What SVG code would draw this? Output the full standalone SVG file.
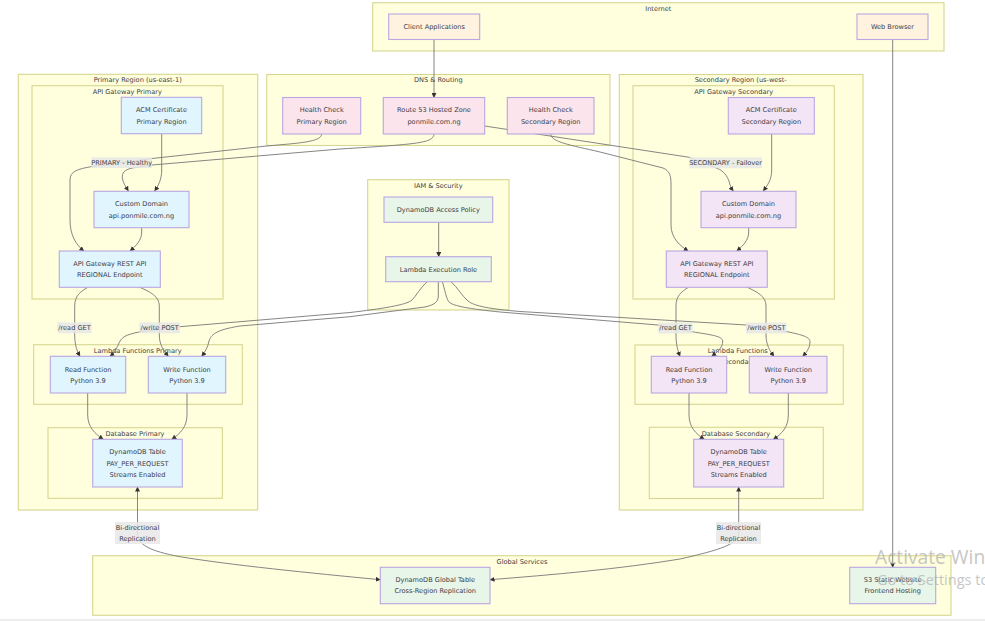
<svg xmlns="http://www.w3.org/2000/svg" width="985" height="621" viewBox="0 0 985 621">
<style>
text{font-family:"DejaVu Sans","Liberation Sans",sans-serif;font-size:6.6px;fill:#3c3c44;text-anchor:middle}
.c{fill:#ffffde;stroke:#d6d690;stroke-width:1.1}
.n{stroke:#b9a6e2;stroke-width:1.1}
.blue{fill:#e1f5fe}.pur{fill:#f3e5f5}.pink{fill:#fce4ec}.org{fill:#fff3e0}.grn{fill:#e8f5e9}
.e{fill:none;stroke:#777;stroke-width:.9;marker-end:url(#a)}
.b{marker-start:url(#s)}
.l{fill:#e8e8e8;fill-opacity:.85}
.w{font-family:"Open Sans",sans-serif;fill:#b4b4b4;text-anchor:start}
</style>
<defs>
<marker id="a" viewBox="0 0 6 6" refX="5.5" refY="3" markerWidth="5" markerHeight="5" markerUnits="userSpaceOnUse" orient="auto"><path d="M0 0L6 3L0 6z" fill="#333"/></marker>
<marker id="s" viewBox="0 0 6 6" refX=".5" refY="3" markerWidth="5" markerHeight="5" markerUnits="userSpaceOnUse" orient="auto"><path d="M6 0L0 3L6 6z" fill="#333"/></marker>
</defs>
<rect width="985" height="621" fill="#fff"/>
<rect y="619" width="985" height="2" fill="#ececec"/>
<g id="clusters">
<g id="cluster-internet"><rect class="c" x="372.7" y="2.7" width="571.3" height="48.3"/><text x="658.3" y="10.6">Internet</text></g>
<g id="cluster-dns"><rect class="c" x="266.7" y="74.5" width="343.3" height="71"/><text x="438.3" y="81.6">DNS &amp; Routing</text></g>
<g id="cluster-primary"><rect class="c" x="18.3" y="74.3" width="239.4" height="435.7"/><text x="137.7" y="81.6">Primary Region (us-east-1)</text></g>
<g id="cluster-apigw-primary"><rect class="c" x="32" y="85.7" width="191" height="213.3"/><text x="127.3" y="94">API Gateway Primary</text></g>
<g id="cluster-lambda-primary"><rect class="c" x="33.7" y="344.7" width="208.6" height="59.6"/><text x="137.7" y="353">Lambda Functions Primary</text></g>
<g id="cluster-db-primary"><rect class="c" x="48" y="427.7" width="174.3" height="70.6"/><text x="135" y="436">Database Primary</text></g>
<g id="cluster-secondary"><rect class="c" x="619.3" y="74.5" width="243.7" height="435.5"/><text x="740.7" y="81.6">Secondary Region (us-west-</text></g>
<g id="cluster-apigw-secondary"><rect class="c" x="633" y="85.7" width="201.3" height="213.3"/><text x="733.7" y="94">API Gateway Secondary</text></g>
<g id="cluster-lambda-secondary"><rect class="c" x="635" y="345" width="208.3" height="59.3"/><text x="737.7" y="353">Lambda Functions</text><text x="737.7" y="364">Secondary</text></g>
<g id="cluster-db-secondary"><rect class="c" x="649.3" y="427.3" width="174" height="71.2"/><text x="736" y="436">Database Secondary</text></g>
<g id="cluster-iam"><rect class="c" x="367.7" y="179.7" width="141.3" height="130.3"/><text x="438.3" y="188">IAM &amp; Security</text></g>
<g id="cluster-global"><rect class="c" x="92.7" y="555.7" width="858.3" height="59.6"/><text x="522" y="563.6">Global Services</text></g>
</g>
<g id="connectors">
<path class="e" d="M434 39.5V97.5"/>
<path class="e" d="M892.7 39.5V567.3"/>
<path class="e" d="M321.7 134C321 142 300 143 266.7 146L152 158.5L92 166.5C78 169 70 171 70 180V220C70 235 76 245 84 251"/>
<path class="e" d="M434 134C433 143 420 144 340 149L152 165L132 168C124 170 122 173 122.3 178C123 183 126 187 128.3 191"/>
<path class="e" d="M484.7 126L689.3 157.3L717 168.3C724 171 727 176 729 181C730 185 731 188 733.3 191"/>
<path class="e" d="M550.7 134C551 142 570 145 600 152L663 168C670 171 671 176 671 185V225C671 238 680 246 688.3 251"/>
<path class="e" d="M161.7 133.7V170C161.7 180 158 186 154.7 191"/>
<path class="e" d="M141.7 227.7V232C141.7 240 136 246 130 251"/>
<path class="e" d="M771.7 133.7V170C771.7 180 767 186 763.3 191"/>
<path class="e" d="M748.7 227.7V232C748.7 240 743 246 736.7 251"/>
<path class="e" d="M87.7 287.3C80 292 74.7 296 74.7 306V335C74.7 345 77 351 80 356.3"/>
<path class="e" d="M140 287.3C150 292 159.3 296 159.3 306V335C159.3 345 164 351 168.3 356.3"/>
<path class="e" d="M688.3 287.3C681 292 676 296 676 306V335C676 345 678 351 680 356.3"/>
<path class="e" d="M747.3 287.3C757 292 766 296 766 306V335C766 345 770 351 774 356.3"/>
<path class="e" d="M438.7 222.3V256.7"/>
<path class="e" d="M427.3 281.7C421 287 416 296 412 300C407 305 380 309 350 312.5L180 326.7L139 332C125 335 122 337 119 343C117 348 114 353 110 356.3"/>
<path class="e" d="M438.3 281.7V296C438.3 302 434 305 425 307L350 316.7L240 326C215 330 211 335 209 341C208 347 205 352 201.7 356.3"/>
<path class="e" d="M442.3 281.7C445 290 446 298 449 302C453 306 470 309 500 312L658 325L692 331.7C712 335 722 336 722.7 341C723 348 716 353 711.7 356.3"/>
<path class="e" d="M451 281.7C458 288 462 296 468 301C474 306 490 309 520 311.5L746.7 325L787 331.7C803 335 810 337 810 342C810 348 806 353 802.7 356.3"/>
<path class="e" d="M87.7 393V415C87.7 427 95 434 103.3 439.3"/>
<path class="e" d="M187 393V415C187 427 180 434 171.7 439.3"/>
<path class="e" d="M689 393V415C689 427 696 434 704.3 439.3"/>
<path class="e" d="M788.3 393V415C788.3 427 782 434 773.3 439.3"/>
<path class="e b" d="M137.5 487V533C137.5 545 150 551 180 556.7C230 565 310 573 380.3 579.7"/>
<path class="e b" d="M738.7 487V533C738.7 544 720 550 680 559C620 569 550 575 490 579.7"/>
</g>
<g id="edge-labels">
<g><rect class="l" x="91.3" y="157.3" width="60.7" height="10.7"/><text x="121.7" y="165">PRIMARY - Healthy</text></g>
<g><rect class="l" x="689.3" y="157.3" width="72.7" height="11"/><text x="725.6" y="165">SECONDARY - Failover</text></g>
<g><rect class="l" x="57.3" y="322.3" width="34.4" height="11"/><text x="74.5" y="330">/read GET</text></g>
<g><rect class="l" x="139.3" y="322.3" width="40.7" height="11"/><text x="159.7" y="330">/write POST</text></g>
<g><rect class="l" x="658.3" y="322.5" width="34.4" height="11"/><text x="675.5" y="330">/read GET</text></g>
<g><rect class="l" x="746" y="322.5" width="40.7" height="11"/><text x="766.3" y="330">/write POST</text></g>
<g><rect class="l" x="115" y="522" width="45" height="22"/><text x="137.5" y="529.7">Bi-directional</text><text x="137.5" y="540.7">Replication</text></g>
<g><rect class="l" x="716" y="522" width="45" height="22"/><text x="738.5" y="529.7">Bi-directional</text><text x="738.5" y="540.7">Replication</text></g>
</g>
<g id="client-apps"><rect class="n org" x="388.7" y="14" width="91" height="25.5"/><text x="434.2" y="29.2">Client Applications</text></g>
<g id="web-browser"><rect class="n org" x="857" y="14" width="71" height="25.5"/><text x="892.5" y="29.2">Web Browser</text></g>
<g id="health-primary"><rect class="n pink" x="282.7" y="97.5" width="78" height="36.5"/><text x="321.7" y="112">Health Check</text><text x="321.7" y="124">Primary Region</text></g>
<g id="route53"><rect class="n pink" x="383.3" y="97.5" width="101.4" height="36.5"/><text x="434" y="112">Route 53 Hosted Zone</text><text x="434" y="124">ponmile.com.ng</text></g>
<g id="health-secondary"><rect class="n pink" x="507.3" y="97.5" width="86.7" height="36.5"/><text x="550.7" y="112">Health Check</text><text x="550.7" y="124">Secondary Region</text></g>
<g id="acm-primary"><rect class="n blue" x="121.3" y="97.3" width="80.4" height="36.4"/><text x="161.5" y="112">ACM Certificate</text><text x="161.5" y="124">Primary Region</text></g>
<g id="domain-primary"><rect class="n blue" x="94" y="191.3" width="95" height="36.4"/><text x="141.5" y="206">Custom Domain</text><text x="141.5" y="218.2">api.ponmile.com.ng</text></g>
<g id="rest-primary"><rect class="n blue" x="59.3" y="251" width="101" height="36.3"/><text x="109.8" y="265.8">API Gateway REST API</text><text x="109.8" y="276.8">REGIONAL Endpoint</text></g>
<g id="read-primary"><rect class="n blue" x="50.3" y="356.3" width="75.4" height="36.7"/><text x="88" y="371.9">Read Function</text><text x="88" y="382.9">Python 3.9</text></g>
<g id="write-primary"><rect class="n blue" x="148.3" y="356.3" width="77.4" height="36.7"/><text x="187" y="371.9">Write Function</text><text x="187" y="382.9">Python 3.9</text></g>
<g id="db-primary"><rect class="n blue" x="92.7" y="439.3" width="89.6" height="47.7"/><text x="137.5" y="453.9">DynamoDB Table</text><text x="137.5" y="465.9">PAY_PER_REQUEST</text><text x="137.5" y="476.9">Streams Enabled</text></g>
<g id="acm-secondary"><rect class="n pur" x="728.3" y="97.5" width="86" height="36.5"/><text x="771.3" y="112">ACM Certificate</text><text x="771.3" y="124">Secondary Region</text></g>
<g id="domain-secondary"><rect class="n pur" x="701" y="191.3" width="95" height="36.4"/><text x="748.5" y="206">Custom Domain</text><text x="748.5" y="218.2">api.ponmile.com.ng</text></g>
<g id="rest-secondary"><rect class="n pur" x="666.3" y="251" width="101" height="36.3"/><text x="716.8" y="265.8">API Gateway REST API</text><text x="716.8" y="276.8">REGIONAL Endpoint</text></g>
<g id="read-secondary"><rect class="n pur" x="651.3" y="356.3" width="75.4" height="36.7"/><text x="689" y="371.9">Read Function</text><text x="689" y="382.9">Python 3.9</text></g>
<g id="write-secondary"><rect class="n pur" x="749.3" y="356.3" width="77.7" height="36.7"/><text x="788.2" y="371.9">Write Function</text><text x="788.2" y="382.9">Python 3.9</text></g>
<g id="db-secondary"><rect class="n pur" x="693.7" y="439.3" width="90" height="47.7"/><text x="738.7" y="453.9">DynamoDB Table</text><text x="738.7" y="465.9">PAY_PER_REQUEST</text><text x="738.7" y="476.9">Streams Enabled</text></g>
<g id="iam-policy"><rect class="n grn" x="384" y="197" width="108.7" height="25.3"/><text x="438.3" y="212">DynamoDB Access Policy</text></g>
<g id="iam-role"><rect class="n grn" x="385.7" y="256.7" width="105.6" height="25"/><text x="438.5" y="272">Lambda Execution Role</text></g>
<g id="global-table"><rect class="n grn" x="380.3" y="567.3" width="109.7" height="36.4"/><text x="435.2" y="581.9">DynamoDB Global Table</text><text x="435.2" y="592.9">Cross-Region Replication</text></g>
<g id="s3"><rect class="n grn" x="849.7" y="567.3" width="86" height="36.4"/><text x="892.7" y="581.9">S3 Static Website</text><text x="892.7" y="592.9">Frontend Hosting</text></g>
<g id="watermark" opacity=".75"><text class="w" x="875" y="564" style="font-size:19.2px">Activate Win</text><text class="w" x="877" y="585" style="font-size:14.5px">Go to Settings to</text></g>
</svg>
